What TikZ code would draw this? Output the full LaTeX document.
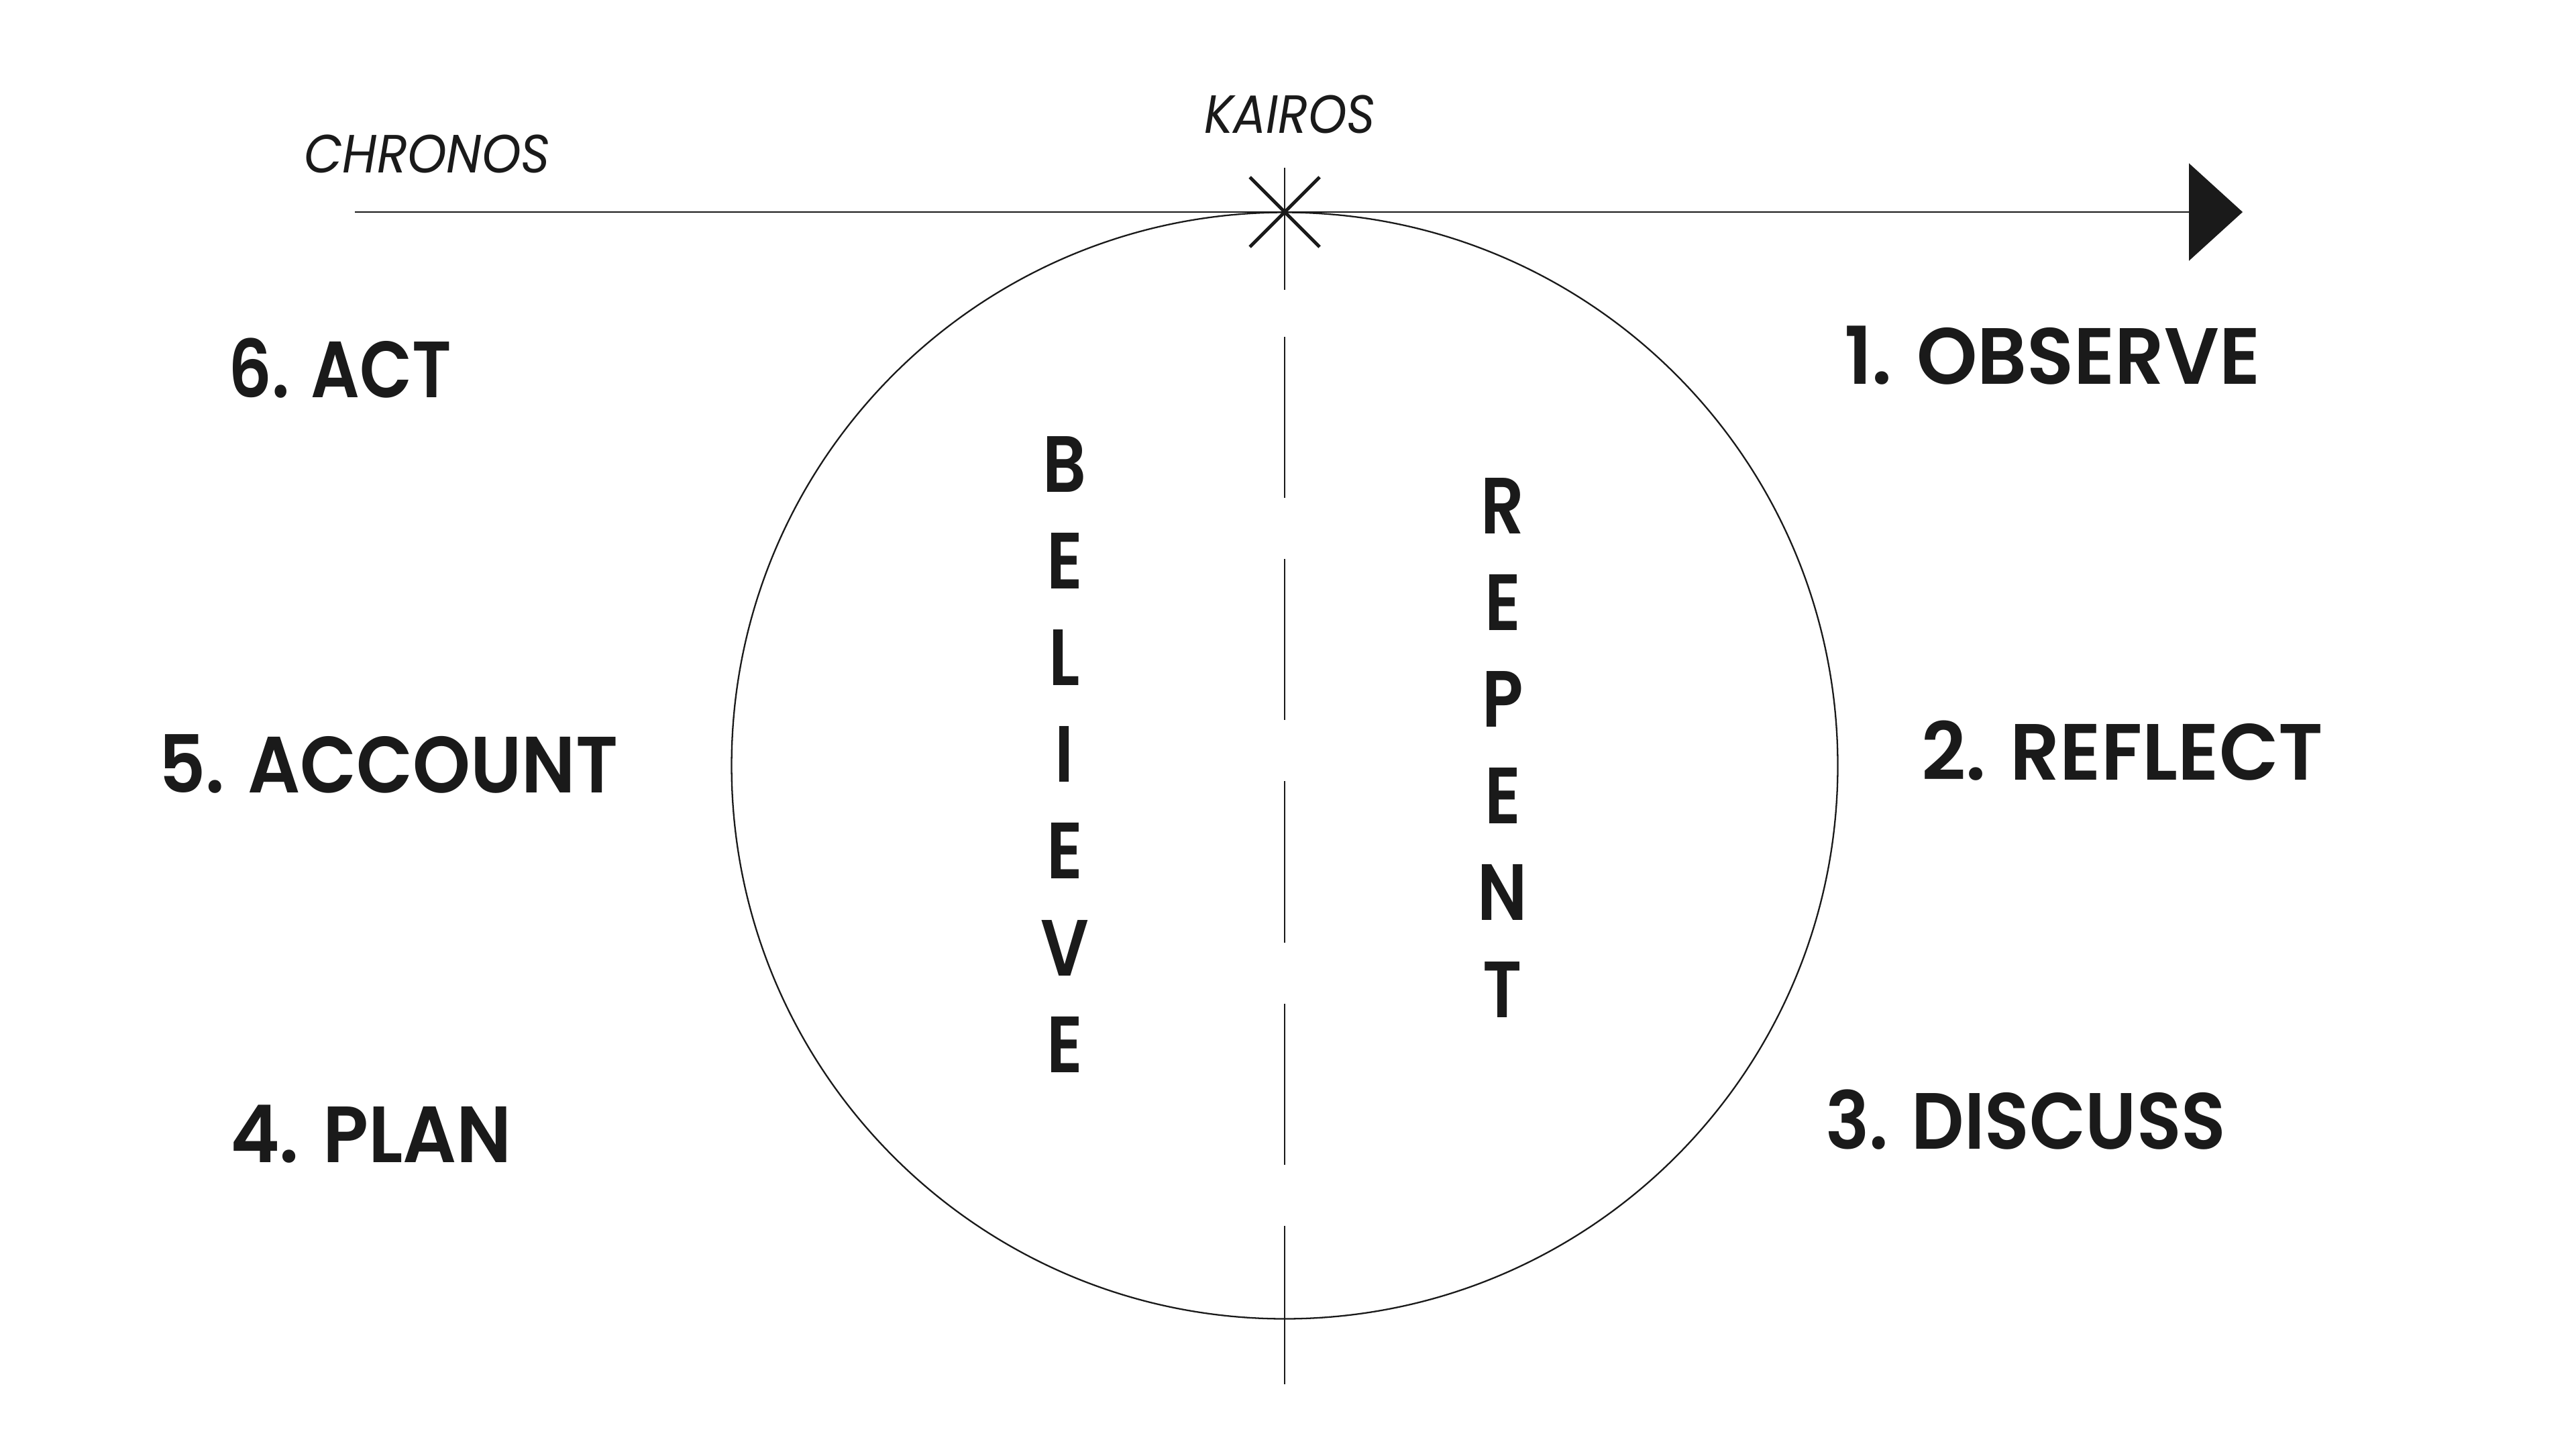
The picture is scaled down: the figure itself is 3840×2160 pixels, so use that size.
\documentclass[tikz,border=0pt]{standalone}
\usepackage{fontspec}
\setmainfont{Poppins}[BoldFont={Poppins SemiBold}]
\usetikzlibrary{arrows.meta}
\definecolor{ink}{HTML}{1A1A1A}
\begin{document}
\begin{tikzpicture}[x=0.01cm,y=-0.01cm]
\tikzset{
  lbl/.style={anchor=base west, inner sep=0pt, outer sep=0pt, text=ink, font=\fontsize{33.8pt}{40pt}\selectfont\bfseries},
  ital/.style={anchor=base west, inner sep=0pt, outer sep=0pt, text=ink, font=\fontsize{22.8pt}{27pt}\selectfont\itshape},
  vletter/.style={anchor=base, inner sep=0pt, outer sep=0pt, text=ink, font=\fontsize{33.8pt}{40pt}\selectfont\bfseries},
  thinline/.style={line width=0.6pt, draw=ink},
  crossline/.style={line width=1.4pt, draw=ink},
}
\fill[white] (0,0) rectangle (3840,2160);
\useasboundingbox (0,0) rectangle (3840,2160);

% axis
\coordinate (axisL) at (529,316);
\coordinate (axisR) at (3343,316);
\coordinate (kairos) at (1915,316);
\draw[thinline, -{Triangle[length=0.8cm,width=1.45cm]}, fill=ink] (axisL) -- (axisR);

% circle
\node[draw=ink, line width=0.65pt, circle, minimum size=16.48cm, inner sep=0pt] (circ) at (1915,1141) {};

% vertical dashed line
\coordinate (vtop) at (1915,250);
\coordinate (vone) at (1915,432);
\coordinate (vdash) at (1915,502);
\coordinate (vbot) at (1915,2063);
\draw[thinline] (vtop) -- (vone);
\draw[thinline, dash pattern=on 2.4cm off 0.91cm] (vdash) -- (vbot);

% cross at kairos
\draw[crossline] (kairos) +(-52,-52) -- +(52,52);
\draw[crossline] (kairos) +(52,-52) -- +(-52,52);

% italic labels
\node[ital] (chronos) at (453,257) {\resizebox{3.67cm}{\height}{CHRONOS}};
\node[ital] (kairoslbl) at (1795,198) {\resizebox{2.55cm}{\height}{KAIROS}};

% step labels
\node[lbl] (observe) at (2749,572) {\resizebox{6.2cm}{\height}{1. OBSERVE}};
\node[lbl] (reflect) at (2864,1162) {\resizebox{5.99cm}{\height}{2. REFLECT}};
\node[lbl] (discuss) at (2721,1712) {\resizebox{5.97cm}{\height}{3. DISCUSS}};
\node[lbl] (plan) at (343,1732) {\resizebox{4.2cm}{\height}{4. PLAN}};
\node[lbl] (account) at (236,1181) {\resizebox{6.85cm}{\height}{5. ACCOUNT}};
\node[lbl] (act) at (340,592) {\resizebox{3.33cm}{\height}{6. ACT}};

% vertical words
\foreach \l [count=\i from 0] in {B,E,L,I,E,V,E}
  \node[vletter] (bel\i) at (1587, 733+144.2*\i) {\scalebox{0.85}[1]{\l}};
\foreach \l [count=\i from 0] in {R,E,P,E,N,T}
  \node[vletter] (rep\i) at (2240, 795+144.2*\i) {\scalebox{0.85}[1]{\l}};
\end{tikzpicture}
\end{document}
